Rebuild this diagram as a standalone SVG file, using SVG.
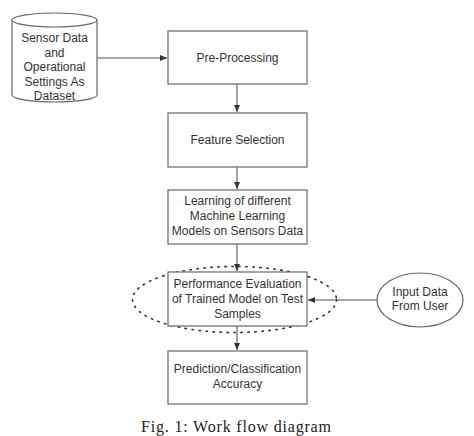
<svg xmlns="http://www.w3.org/2000/svg" width="474" height="436" viewBox="0 0 474 436">
<defs>
<style>
.box{fill:#fff;stroke:#666;stroke-width:1.2}
.t{font-family:"Liberation Sans",Arial,sans-serif;font-size:12px;fill:#333;text-anchor:middle}
.c{stroke:#555;stroke-width:1.1;fill:none}
</style>
<marker id="ah" markerWidth="8" markerHeight="6" refX="7" refY="3" orient="auto" markerUnits="userSpaceOnUse">
<path d="M0,0 L7,3 L0,6 Z" fill="#333"/>
</marker>
</defs>
<rect width="474" height="436" fill="#fff"/>
<g id="connectors">
<line class="c" x1="97" y1="58" x2="167" y2="58" marker-end="url(#ah)"/>
<line class="c" x1="237" y1="84" x2="237" y2="112" marker-end="url(#ah)"/>
<line class="c" x1="237" y1="167" x2="237" y2="189" marker-end="url(#ah)"/>
<line class="c" x1="237" y1="244" x2="237" y2="271" marker-end="url(#ah)"/>
<line class="c" x1="377" y1="300" x2="308" y2="300" marker-end="url(#ah)"/>
<line class="c" x1="237" y1="326" x2="237" y2="350" marker-end="url(#ah)"/>
</g>
<g id="dataset">
<path class="box" d="M12,20 L12,95 A42.5,7 0 0 0 97,95 L97,20"/>
<ellipse class="box" cx="54.5" cy="20" rx="42.5" ry="7"/>
<text class="t" x="54.5" y="42">Sensor Data</text>
<text class="t" x="54.5" y="56.5">and</text>
<text class="t" x="54.5" y="71">Operational</text>
<text class="t" x="54.5" y="85.5">Settings As</text>
<text class="t" x="54.5" y="100">Dataset</text>
</g>
<g id="preprocessing">
<rect class="box" x="168" y="31" width="139" height="53"/>
<text class="t" x="237.5" y="61.5">Pre-Processing</text>
</g>
<g id="feature">
<rect class="box" x="168" y="113" width="139" height="54"/>
<text class="t" x="237.5" y="143.5">Feature Selection</text>
</g>
<g id="learning">
<rect class="box" x="168" y="190" width="139" height="54"/>
<text class="t" x="237.5" y="205">Learning of different</text>
<text class="t" x="237.5" y="220">Machine Learning</text>
<text class="t" x="237.5" y="235">Models on Sensors Data</text>
</g>
<g id="evaluation">
<ellipse cx="234.5" cy="299.5" rx="102" ry="33" fill="none" stroke="#333" stroke-width="1.6" stroke-dasharray="1.5,5.5" stroke-linecap="round"/>
<rect class="box" x="168" y="272" width="139" height="54"/>
<text class="t" x="237.5" y="288">Performance Evaluation</text>
<text class="t" x="237.5" y="303">of Trained Model on Test</text>
<text class="t" x="237.5" y="317.5">Samples</text>
</g>
<g id="userinput">
<ellipse class="box" cx="420" cy="300" rx="43" ry="27"/>
<text class="t" x="420" y="296">Input Data</text>
<text class="t" x="420" y="309.5">From User</text>
</g>
<g id="prediction">
<rect class="box" x="168" y="351" width="139" height="53"/>
<text class="t" x="237.5" y="373">Prediction/Classification</text>
<text class="t" x="237.5" y="387.5">Accuracy</text>
</g>
<text x="236" y="431.5" font-family="Liberation Serif,'Times New Roman',serif" font-size="16" fill="#222" text-anchor="middle" textLength="190" lengthAdjust="spacing">Fig. 1: Work flow diagram</text>
</svg>
